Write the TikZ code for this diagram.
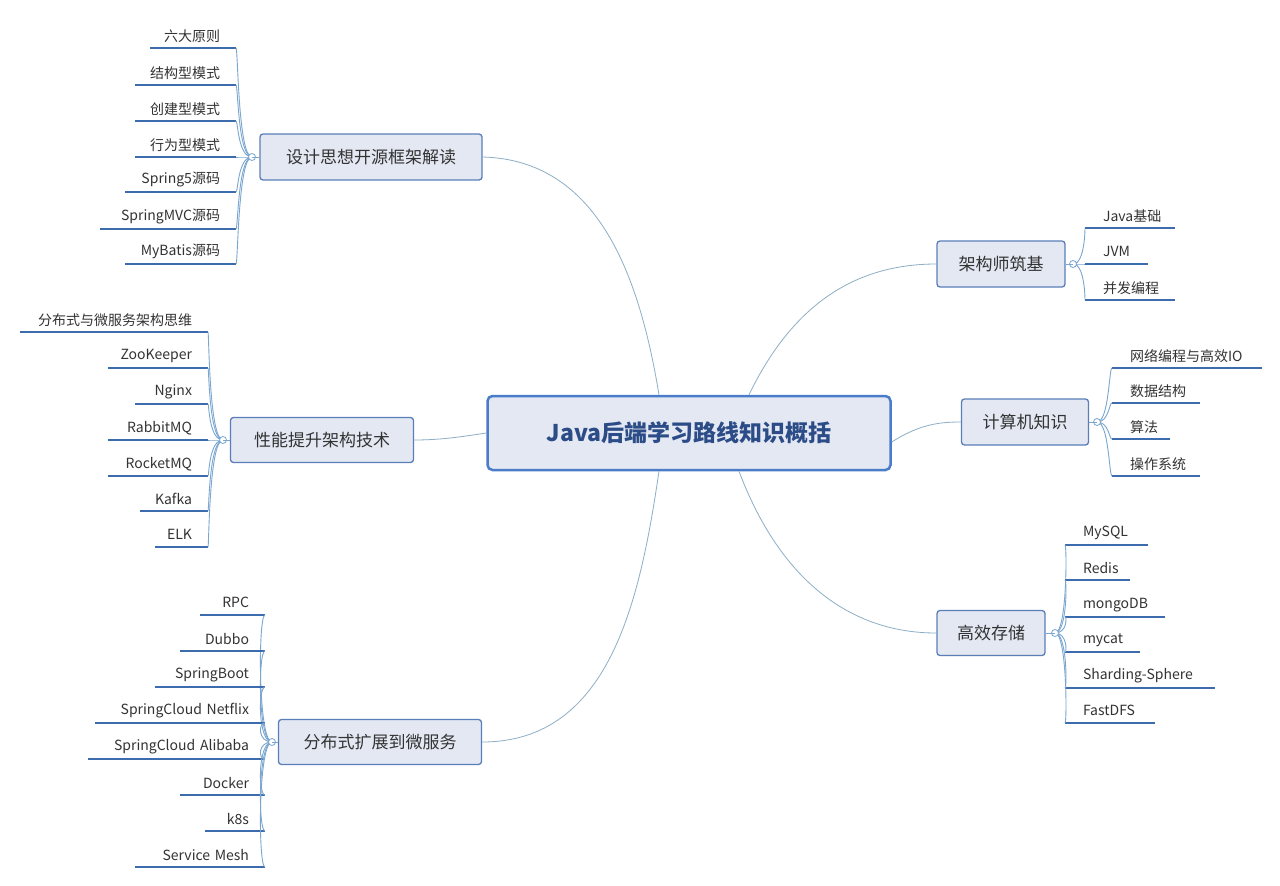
\documentclass[tikz,border=0pt]{standalone}
\usepackage{fontspec}
\setmainfont{Noto Sans CJK SC}
\begin{document}
\begin{tikzpicture}[x=1pt,y=-1pt,
  mainbox/.style={draw=boxblue,line width=1.3pt,fill=boxfill,rounded corners=3pt,font=\fontsize{17}{20}\selectfont,text=txt,inner sep=0pt},
  leaf/.style={inner sep=0pt,anchor=south,font=\fontsize{14}{16}\selectfont,text=txt,minimum height=24pt},
  uline/.style={draw=leafblue,line width=2pt},
  conn/.style={draw=connc,line width=0.8pt},
  link/.style={draw=linkc,line width=0.9pt},
  hubc/.style={draw=linkc,fill=white,line width=0.8pt}]
\definecolor{boxblue}{HTML}{5A7FB8}
\definecolor{boxfill}{HTML}{E3E8F3}
\definecolor{leafblue}{HTML}{3D6CAE}
\definecolor{connc}{HTML}{8DAFC6}
\definecolor{linkc}{HTML}{7AA6CF}
\definecolor{txt}{HTML}{333333}
\definecolor{ctext}{HTML}{2B4C86}
\definecolor{cborder}{HTML}{4A7CC9}
\fill[white] (0,0) rectangle (1280,886);
\useasboundingbox (0,0) rectangle (1280,886);

\node[draw=cborder,line width=2.5pt,fill=boxfill,rounded corners=5pt,minimum width=403pt,minimum height=74pt,font=\fontsize{23}{26}\selectfont\bfseries,text=ctext] (c) at (689,433) {Java后端学习路线知识概括};

\node[mainbox,minimum width=222pt,minimum height=46pt] (b1) at (371,157) {设计思想开源框架解读};
\node[mainbox,minimum width=183pt,minimum height=45pt] (b2) at (322,440) {性能提升架构技术};
\node[mainbox,minimum width=203pt,minimum height=45pt] (b3) at (380,742) {分布式扩展到微服务};
\node[mainbox,minimum width=128pt,minimum height=46pt] (b4) at (1001,264) {架构师筑基};
\node[mainbox,minimum width=127pt,minimum height=46pt] (b5) at (1025,422) {计算机知识};
\node[mainbox,minimum width=108pt,minimum height=45pt] (b6) at (991,633) {高效存储};

\draw[conn] ([xshift=-30pt]c.north) .. controls (640,280) and (600,160) .. (b1.east);
\draw[conn] (c.west) .. controls (460,437) and (440,440) .. (b2.east);
\draw[conn] ([xshift=-30pt]c.south) .. controls (640,600) and (610,742) .. (b3.east);
\draw[conn] ([xshift=60pt]c.north) .. controls (790,310) and (850,264) .. (b4.west);
\draw[conn] ([yshift=-9pt]c.east) .. controls (920,424) and (940,422) .. (b5.west);
\draw[conn] ([xshift=50pt]c.south) .. controls (780,580) and (850,633) .. (b6.west);

% left groups
\foreach \g/\hx/\hy/\rx/\list in {
  1/252/157/236/{六大原则/48/150,结构型模式/85/135,创建型模式/121/135,行为型模式/157/135,Spring5源码/192/125,SpringMVC源码/229/100,MyBatis源码/264/125},
  2/223/440/208/{分布式与微服务架构思维/332/20,ZooKeeper/368/108,Nginx/404/135,RabbitMQ/440/108,RocketMQ/476/108,Kafka/511/140,ELK/547/155},
  3/272/742/265/{RPC/615/200,Dubbo/651/180,SpringBoot/687/155,SpringCloud Netflix/723/95,SpringCloud Alibaba/759/88,Docker/795/180,k8s/831/205,Service Mesh/867/135}}{
  \coordinate (h\g) at (\hx,\hy);
  \foreach \t/\ly/\lx [count=\i] in \list {
    \node[leaf,text width=\rx-\lx-16,align=right] (L\g-\i) at ({(\lx+\rx)/2-8},\ly) {\t};
    \draw[uline] (\lx,\ly) -- (\rx,\ly);
    \draw[link] (h\g) .. controls (\hx-14,\hy) and (\hx-14,\ly) .. (\rx,\ly);
  }
  \draw[hubc] (h\g) circle (3.5pt);
}
\draw[link] (b1.west) -- (h1);
\draw[link] (b2.west) -- (h2);
\draw[link] (b3.west) -- (h3);

% right groups
\foreach \g/\hx/\hy/\lx/\list in {
  4/1073/264/1085/{Java基础/228/1175,JVM/264/1148,并发编程/300/1175},
  5/1097/422/1112/{网络编程与高效IO/368/1262,数据结构/403/1200,算法/439/1170,操作系统/476/1200},
  6/1055/633/1065/{MySQL/545/1148,Redis/580/1130,mongoDB/617/1165,mycat/652/1140,Sharding-Sphere/688/1215,FastDFS/723/1155}}{
  \coordinate (h\g) at (\hx,\hy);
  \foreach \t/\ly/\rx [count=\i] in \list {
    \node[leaf,text width=\rx-\lx-18,align=left] (L\g-\i) at ({(\lx+\rx)/2+9},\ly) {\t};
    \draw[uline] (\lx,\ly) -- (\rx,\ly);
    \draw[link] (h\g) .. controls (\hx+12,\hy) and (\hx+12,\ly) .. (\lx,\ly);
  }
  \draw[hubc] (h\g) circle (3.5pt);
}
\draw[link] (b4.east) -- (h4);
\draw[link] (b5.east) -- (h5);
\draw[link] (b6.east) -- (h6);
\end{tikzpicture}
\end{document}
